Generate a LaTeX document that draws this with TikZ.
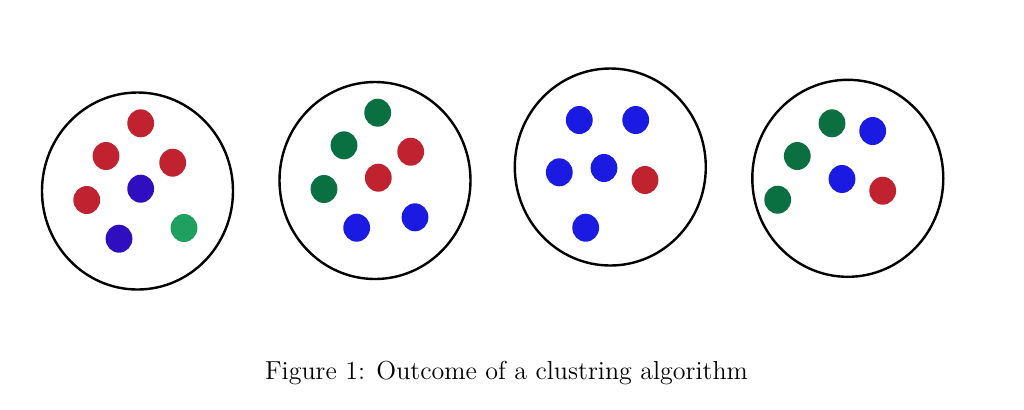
\documentclass[tikz,border=0pt]{standalone}
\usepackage{tikz}
\usepackage{xcolor}
\usetikzlibrary{shapes.geometric, positioning}
\definecolor{cRed}{RGB}{192,34,48}
\definecolor{cBlue}{RGB}{26,26,226}
\definecolor{cIndigo}{RGB}{46,14,190}
\definecolor{cGreen}{RGB}{10,112,66}
\definecolor{cLight}{RGB}{30,160,96}
\tikzset{
	cluster/.style={ellipse, draw=black, line width=1.2pt, minimum width=95.5pt, minimum height=98.5pt, inner sep=0pt},
	dot/.style    ={ellipse, minimum width=13.4pt, minimum height=14pt, inner sep=0pt},
	caption/.style={font=\fontsize{13}{15}\selectfont, anchor=base},
}
\begin{document}
\begin{tikzpicture}[x=0.5pt, y=-0.5pt]
			\useasboundingbox (0,0) rectangle (1024,409);
			% the four clusters
			\node[cluster] (c1) at (137.5,191) {};
			\node[cluster] (c2) at (375,180.5) {};
			\node[cluster] (c3) at (610.3,167) {};
			\node[cluster] (c4) at (847.8,178.3) {};
			% points in each cluster
			\foreach \n/\x/\y/\col in {a/140.7/123.3/cRed, b/106/156/cRed, c/172.7/162.7/cRed, d/140.7/188.7/cIndigo, e/86.7/200/cRed, f/119/238.7/cIndigo, g/184/228/cLight}
				\node[dot, fill=\col] (p1\n) at (\x,\y) {};
			\foreach \n/\x/\y/\col in {a/377.7/112.7/cGreen, b/344/145.3/cGreen, c/410.7/151.7/cRed, d/378.3/177.7/cRed, e/324/189/cGreen, f/356.7/227.7/cBlue, g/415/217.3/cBlue}
				\node[dot, fill=\col] (p2\n) at (\x,\y) {};
			\foreach \n/\x/\y/\col in {a/579.3/120/cBlue, b/635.7/120/cBlue, c/559.3/172.3/cBlue, d/604/168/cBlue, e/645/180/cRed, f/585.7/227.7/cBlue}
				\node[dot, fill=\col] (p3\n) at (\x,\y) {};
			\foreach \n/\x/\y/\col in {a/832/123.3/cGreen, b/872.7/131/cBlue, c/797.3/156/cGreen, d/842/179/cBlue, e/882.7/190.7/cRed, f/777.7/199.7/cGreen}
				\node[dot, fill=\col] (p4\n) at (\x,\y) {};
			\node[caption] (cap) at (506.5,379) {Figure 1: Outcome of a clustring algorithm};
		\end{tikzpicture}
\end{document}
